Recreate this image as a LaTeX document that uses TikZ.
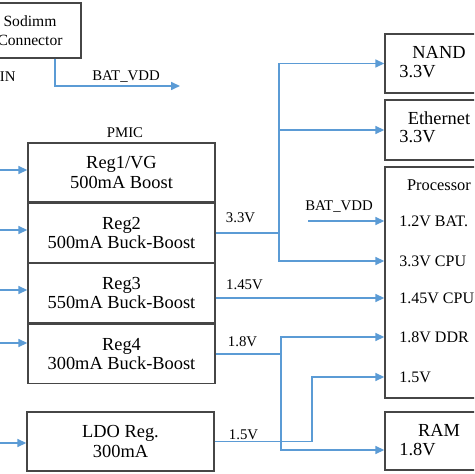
\documentclass[tikz,border=0pt]{standalone}
\usepackage{fontspec}
\setmainfont{Liberation Serif}
\usetikzlibrary{arrows.meta,positioning}
\definecolor{wireblue}{RGB}{91,155,213}
\definecolor{boxgray}{RGB}{70,70,70}
\begin{document}
\begin{tikzpicture}[x=0.5pt,y=-0.5pt,
    blk/.style={draw=boxgray,line width=0.7pt,inner sep=0pt,minimum width=93.5pt,minimum height=29.5pt,align=center,font=\fontsize{9.2}{9.6}\selectfont},
    dev/.style={draw=boxgray,line width=0.7pt,inner sep=0pt,minimum width=54pt},
    big/.style={font=\fontsize{9.2}{10}\selectfont,inner sep=0pt},
    lbl/.style={font=\fontsize{7.4}{8}\selectfont,inner sep=0pt},
    pin/.style={font=\fontsize{8}{9}\selectfont,inner sep=0pt,anchor=west},
    wire/.style={draw=wireblue,line width=0.8pt,-{Triangle[length=4.5pt,width=4pt]}}]
      \useasboundingbox (0,0) rectangle (474,474);
      \clip (0,0) rectangle (474,474);
      \node[blk,minimum width=51pt,minimum height=27.5pt,font=\fontsize{7.8}{9.5}\selectfont] (sodimm) at (30,30.5) {Sodimm\\Connector};
      \node[lbl,anchor=east] (vin) at (16,77) {VIN};
      \node[lbl] (pmic) at (125,133) {PMIC};
      \node[blk] (reg1) at (121.5,172.5) {Reg1/VG\\500mA Boost};
      \node[blk,below=0pt of reg1] (reg2) {Reg2\\500mA Buck-Boost};
      \node[blk,below=0pt of reg2] (reg3) {Reg3\\550mA Buck-Boost};
      \node[blk,below=0pt of reg3] (reg4) {Reg4\\300mA Buck-Boost};
      \node[blk] (ldo) at (120.5,441.5) {LDO Reg.\\300mA};
      \node[dev,minimum height=29.5pt] (nand) at (439,63.5) {};
      \node[big] (nandt) at (439,52) {NAND};
      \node[big,anchor=west] (nandv) at (399,72) {3.3V};
      \node[dev,minimum height=30pt] (eth) at (439,130) {};
      \node[big] (etht) at (439,118) {Ethernet};
      \node[big,anchor=west] (ethv) at (399,137) {3.3V};
      \node[dev,minimum height=115.5pt] (proc) at (439,282.5) {};
      \node[font=\fontsize{8.2}{9}\selectfont,inner sep=0pt] (proct) at (439,185) {Processor};
      \node[pin] (bat12) at (399,221) {1.2V BAT.};
      \node[pin] (cpu33) at (399,261) {3.3V CPU};
      \node[pin] (cpu145) at (399,298) {1.45V CPU};
      \node[pin] (ddr18) at (399,337) {1.8V DDR};
      \node[pin] (v15) at (399,377) {1.5V};
      \node[dev,minimum height=29pt] (ram) at (439,441) {};
      \node[big] (ramt) at (439,430) {RAM};
      \node[big,anchor=west] (ramv) at (399,450) {1.8V};
      \node[lbl] (bat1) at (126,77) {BAT\_VDD};
      \node[lbl] (bat2) at (339,207) {BAT\_VDD};
      \node[lbl] (l33) at (240.5,218) {3.3V};
      \node[lbl] (l145) at (244.5,285) {1.45V};
      \node[lbl] (l18) at (242.5,342) {1.8V};
      \node[lbl] (l15) at (243.5,435) {1.5V};
      \coordinate (in1) at (-5,170);
      \coordinate (in2) at (-5,230);
      \coordinate (in3) at (-5,290);
      \coordinate (in4) at (-5,343);
      \coordinate (in5) at (-5,443);
      \coordinate (batout) at (180,86);
      \coordinate (batin) at (308,221);
      \coordinate (bus33) at (279,0);
      \coordinate (bus18) at (281,0);
      \coordinate (bus15) at (312,0);
      \draw[wire] (in1) -- (in1 -| reg1.west);
      \draw[wire] (in2) -- (in2 -| reg2.west);
      \draw[wire] (in3) -- (in3 -| reg3.west);
      \draw[wire] (in4) -- (in4 -| reg4.west);
      \draw[wire] (in5) -- (in5 -| ldo.west);
      \draw[wire] ([xshift=12.5pt]sodimm.south) |- (batout);
      \draw[wire] (batin) -- (proc.west |- bat12);
      \draw[wire] (reg2.east) -| (bus33 |- nand.west) -- (nand.west);
      \draw[wire] (bus33 |- eth.west) -- (eth.west);
      \draw[wire] (bus33 |- reg2.east) |- (proc.west |- cpu33);
      \draw[wire] (reg3.east |- cpu145) -- (proc.west |- cpu145);
      \draw[wire] (reg4.east) -| (bus18 |- ddr18) -- (proc.west |- ddr18);
      \draw[wire] (bus18 |- reg4.east) |- (ram.west |- ramv);
      \draw[wire] (ldo.east) -| (bus15 |- v15) -- (proc.west |- v15);
    \end{tikzpicture}
\end{document}
